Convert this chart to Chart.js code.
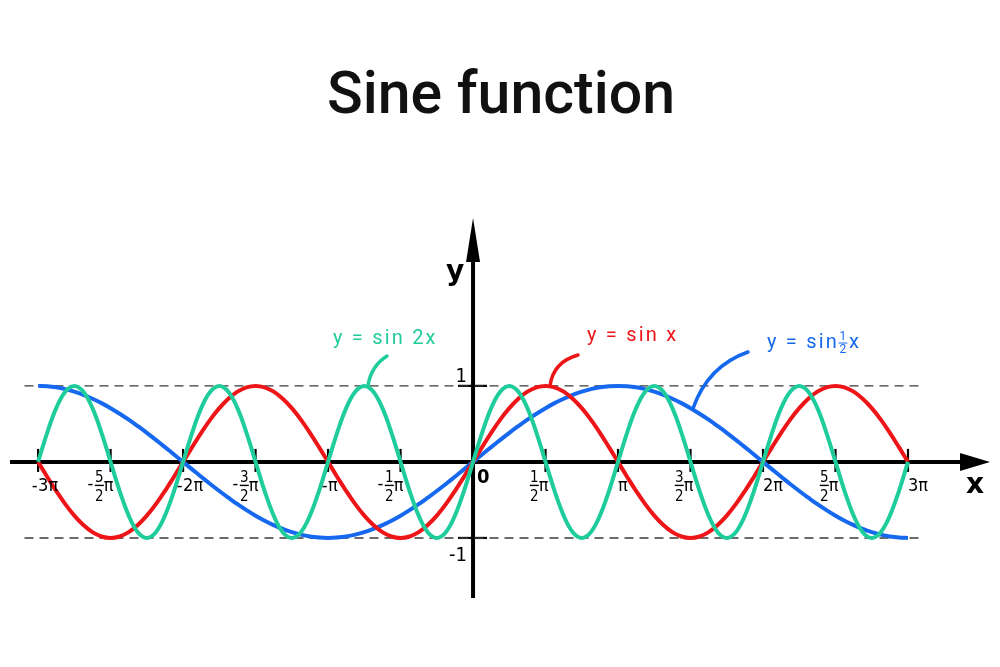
<!DOCTYPE html>
<html>
<head>
<meta charset="utf-8">
<script src="https://cdn.jsdelivr.net/npm/chart.js@4"></script>
<style>
  html, body { margin: 0; padding: 0; background: #fff; }
  #wrap { width: 1000px; height: 667px; }
</style>
</head>
<body>
<div id="wrap"><canvas id="chart"></canvas></div>
<script>
// x positions in steps of pi/16
const xSteps = [
  -48, -47, -46, -45, -44, -43, -42, -41, -40, -39, -38, -37, -36, -35, -34, -33,
  -32, -31, -30, -29, -28, -27, -26, -25, -24, -23, -22, -21, -20, -19, -18, -17,
  -16, -15, -14, -13, -12, -11, -10, -9, -8, -7, -6, -5, -4, -3, -2, -1,
  0, 1, 2, 3, 4, 5, 6, 7, 8, 9, 10, 11, 12, 13, 14, 15,
  16, 17, 18, 19, 20, 21, 22, 23, 24, 25, 26, 27, 28, 29, 30, 31,
  32, 33, 34, 35, 36, 37, 38, 39, 40, 41, 42, 43, 44, 45, 46, 47,
  48
];

// y = sin x
const sinX = [
  0, -.195, -.383, -.556, -.707, -.831, -.924, -.981, -1, -.981, -.924, -.831, -.707, -.556, -.383, -.195,
  0, .195, .383, .556, .707, .831, .924, .981, 1, .981, .924, .831, .707, .556, .383, .195,
  0, -.195, -.383, -.556, -.707, -.831, -.924, -.981, -1, -.981, -.924, -.831, -.707, -.556, -.383, -.195,
  0, .195, .383, .556, .707, .831, .924, .981, 1, .981, .924, .831, .707, .556, .383, .195,
  0, -.195, -.383, -.556, -.707, -.831, -.924, -.981, -1, -.981, -.924, -.831, -.707, -.556, -.383, -.195,
  0, .195, .383, .556, .707, .831, .924, .981, 1, .981, .924, .831, .707, .556, .383, .195,
  0
];

// y = sin 2x
const sin2X = [
  0, .383, .707, .924, 1, .924, .707, .383, 0, -.383, -.707, -.924, -1, -.924, -.707, -.383,
  0, .383, .707, .924, 1, .924, .707, .383, 0, -.383, -.707, -.924, -1, -.924, -.707, -.383,
  0, .383, .707, .924, 1, .924, .707, .383, 0, -.383, -.707, -.924, -1, -.924, -.707, -.383,
  0, .383, .707, .924, 1, .924, .707, .383, 0, -.383, -.707, -.924, -1, -.924, -.707, -.383,
  0, .383, .707, .924, 1, .924, .707, .383, 0, -.383, -.707, -.924, -1, -.924, -.707, -.383,
  0, .383, .707, .924, 1, .924, .707, .383, 0, -.383, -.707, -.924, -1, -.924, -.707, -.383,
  0
];

// y = sin x/2
const sinHalfX = [
  1, .995, .981, .957, .924, .882, .831, .773, .707, .634, .556, .471, .383, .290, .195, .098,
  0, -.098, -.195, -.290, -.383, -.471, -.556, -.634, -.707, -.773, -.831, -.882, -.924, -.957, -.981, -.995,
  -1, -.995, -.981, -.957, -.924, -.882, -.831, -.773, -.707, -.634, -.556, -.471, -.383, -.290, -.195, -.098,
  0, .098, .195, .290, .383, .471, .556, .634, .707, .773, .831, .882, .924, .957, .981, .995,
  1, .995, .981, .957, .924, .882, .831, .773, .707, .634, .556, .471, .383, .290, .195, .098,
  0, -.098, -.195, -.290, -.383, -.471, -.556, -.634, -.707, -.773, -.831, -.882, -.924, -.957, -.981, -.995,
  -1
];

// dashed guides at y = 1 and y = -1
const guideX = [-49.5, 49.5];
const guideTop = [1, 1];
const guideBottom = [-1, -1];

// x ticks (every pi/2) and their labels
const tickSteps = [-48, -40, -32, -24, -16, -8, 8, 16, 24, 32, 40, 48];
const tickLabels = ['-3π', '-5/2π', '-2π', '-3/2π', '-π', '-1/2π', '1/2π', 'π', '3/2π', '2π', '5/2π', '3π'];
const yTickValues = [1, -1];
const yTickLabels = ['1', '-1'];

const RED = '#ee1518';
const TEAL = '#1fcc9c';
const BLUE = '#1669ee';

const toPoints = (xs, ys) => xs.map((x, i) => ({ x, y: ys[i] }));

const LABEL_FONT = '"Liberation Sans Narrow", "DejaVu Sans Condensed", sans-serif';

// draws one tick label, fractions stacked
function drawTickLabel(ctx, text, px, base) {
  ctx.fillStyle = '#000';
  const neg = text.startsWith('-');
  const body = neg ? text.slice(1) : text;
  if (body.includes('/')) {
    const [num, rest] = body.split('/');
    const den = rest.replace('π', '');
    ctx.font = '18px ' + LABEL_FONT;
    ctx.textAlign = 'right';
    ctx.fillText('π', px + 3, base);
    const piW = ctx.measureText('π').width;
    const cx = px + 3 - piW - 4.5;
    ctx.font = '15px ' + LABEL_FONT;
    ctx.textAlign = 'center';
    ctx.fillText(num, cx, base - 9);
    ctx.fillText(den, cx, base + 10);
    ctx.lineWidth = 1.4;
    ctx.strokeStyle = '#000';
    ctx.beginPath();
    ctx.moveTo(cx - 4.5, base - 5.5);
    ctx.lineTo(cx + 4.5, base - 5.5);
    ctx.stroke();
    if (neg) {
      ctx.font = '18px ' + LABEL_FONT;
      ctx.textAlign = 'right';
      ctx.fillText('-', cx - 6, base - 2);
    }
  } else {
    ctx.font = '18px ' + LABEL_FONT;
    ctx.textAlign = 'left';
    ctx.fillText(body, px, base);
    if (neg) {
      ctx.textAlign = 'right';
      ctx.fillText('-', px - 0.5, base);
    }
  }
}

const axesPlugin = {
  id: 'sineAxes',
  beforeDatasetsDraw(chart) {
    const { ctx, scales: { x, y } } = chart;
    const x0 = x.getPixelForValue(0);
    const y0 = y.getPixelForValue(0);
    ctx.save();
    ctx.strokeStyle = '#000';
    ctx.fillStyle = '#000';

    // title
    ctx.font = '500 59px Roboto, sans-serif';
    ctx.textAlign = 'center';
    ctx.textBaseline = 'alphabetic';
    ctx.fillStyle = '#111';
    ctx.fillText('Sine function', 501, 113);
    ctx.fillStyle = '#000';

    // x axis with arrow
    ctx.lineWidth = 4;
    ctx.beginPath();
    ctx.moveTo(x.left, y0);
    ctx.lineTo(x.right - 20, y0);
    ctx.stroke();
    ctx.beginPath();
    ctx.moveTo(x.right, y0);
    ctx.lineTo(x.right - 30, y0 - 9);
    ctx.lineTo(x.right - 30, y0 + 9);
    ctx.closePath();
    ctx.fill();

    // y axis with arrow
    ctx.beginPath();
    ctx.moveTo(x0, y.bottom);
    ctx.lineTo(x0, y.top + 30);
    ctx.stroke();
    ctx.beginPath();
    ctx.moveTo(x0, y.top);
    ctx.lineTo(x0 - 7, y.top + 44);
    ctx.lineTo(x0 + 7, y.top + 44);
    ctx.closePath();
    ctx.fill();

    // x tick marks
    ctx.lineWidth = 2.2;
    tickSteps.forEach(v => {
      const px = x.getPixelForValue(v);
      ctx.beginPath();
      ctx.moveTo(px, y0 - 13);
      ctx.lineTo(px, y0 + 10);
      ctx.stroke();
    });

    // y tick marks
    yTickValues.forEach(v => {
      const py = y.getPixelForValue(v);
      ctx.beginPath();
      ctx.moveTo(x0 - 15, py);
      ctx.lineTo(x0 + 14, py);
      ctx.stroke();
    });
    ctx.restore();
  },
  afterDatasetsDraw(chart) {
    const { ctx, scales: { x, y } } = chart;
    const x0 = x.getPixelForValue(0);
    const y0 = y.getPixelForValue(0);
    ctx.save();
    ctx.textBaseline = 'alphabetic';

    tickSteps.forEach((v, i) => drawTickLabel(ctx, tickLabels[i], x.getPixelForValue(v), y0 + 29));

    ctx.font = '20px ' + LABEL_FONT;
    ctx.textAlign = 'right';
    yTickValues.forEach((v, i) => {
      ctx.fillText(yTickLabels[i], x0 - 6, y.getPixelForValue(v) + (v > 0 ? -4 : 23));
    });

    // origin, axis names
    ctx.textAlign = 'left';
    ctx.font = 'bold 20px ' + LABEL_FONT;
    ctx.fillText('0', x0 + 4, y0 + 21);
    ctx.font = 'bold 28px "DejaVu Sans", sans-serif';
    ctx.fillText('x', x.right - 24, y0 + 31);
    ctx.font = 'bold 28px "DejaVu Sans", sans-serif';
    ctx.fillText('y', x0 - 27, y.top + 62);

    // series names with leader lines
    const leader = (color, sx, sy, cx, cy, ex, ey) => {
      ctx.strokeStyle = color;
      ctx.lineWidth = 3.5;
      ctx.lineCap = 'round';
      ctx.beginPath();
      ctx.moveTo(x.getPixelForValue(sx), y.getPixelForValue(sy));
      ctx.quadraticCurveTo(cx, cy, ex, ey);
      ctx.stroke();
    };
    leader(TEAL, -11.6, 1, 371, 366, 387, 356);
    leader(RED, 8.5, 1, 553, 362, 578, 355);
    leader(BLUE, 24.3, 0.71, 708, 366, 748, 352);

    ctx.font = '20px Roboto, sans-serif';
    ctx.letterSpacing = '2.2px';
    ctx.textAlign = 'left';
    ctx.fillStyle = TEAL;
    ctx.fillText('y = sin 2x', 333, 344);
    ctx.fillStyle = RED;
    ctx.fillText('y = sin x', 587, 341);
    ctx.fillStyle = BLUE;
    const head = 'y = sin';
    ctx.fillText(head, 767, 348);
    const fx = 767 + ctx.measureText(head).width + 4;
    ctx.letterSpacing = '0px';
    ctx.font = '12px Roboto, sans-serif';
    ctx.textAlign = 'center';
    ctx.fillText('1', fx, 340);
    ctx.fillText('2', fx, 353);
    ctx.strokeStyle = BLUE;
    ctx.lineWidth = 1.2;
    ctx.beginPath();
    ctx.moveTo(fx - 4, 343);
    ctx.lineTo(fx + 4, 343);
    ctx.stroke();
    ctx.font = '20px Roboto, sans-serif';
    ctx.letterSpacing = '2.2px';
    ctx.textAlign = 'left';
    ctx.fillText('x', fx + 6, 348);
    ctx.restore();
  }
};

const line = (label, data, color, order) => ({
  label,
  data,
  borderColor: color,
  borderWidth: 4,
  pointRadius: 0,
  tension: 0.4,
  fill: false,
  order
});

const guide = (label, data) => ({
  label,
  data,
  borderColor: '#3a3a3a',
  borderWidth: 1.4,
  borderDash: [9, 6],
  pointRadius: 0,
  fill: false,
  order: 5
});

new Chart(document.getElementById('chart'), {
  type: 'line',
  data: {
    datasets: [
      line('y = sin 2x', toPoints(xSteps, sin2X), TEAL, 0),
      line('y = sin x', toPoints(xSteps, sinX), RED, 1),
      line('y = sin ½x', toPoints(xSteps, sinHalfX), BLUE, 2),
      guide('y = 1', toPoints(guideX, guideTop)),
      guide('y = -1', toPoints(guideX, guideBottom))
    ]
  },
  options: {
    responsive: true,
    maintainAspectRatio: false,
    animation: false,
    layout: { padding: { left: 10, right: 10, top: 218, bottom: 69 } },
    scales: {
      x: { type: 'linear', min: -51.1, max: 57.05, display: false },
      y: { type: 'linear', min: -1.79, max: 3.208, display: false }
    },
    plugins: {
      legend: { display: false },
      tooltip: { enabled: false },
      title: { display: false }
    }
  },
  plugins: [axesPlugin]
});
</script>
</body>
</html>
